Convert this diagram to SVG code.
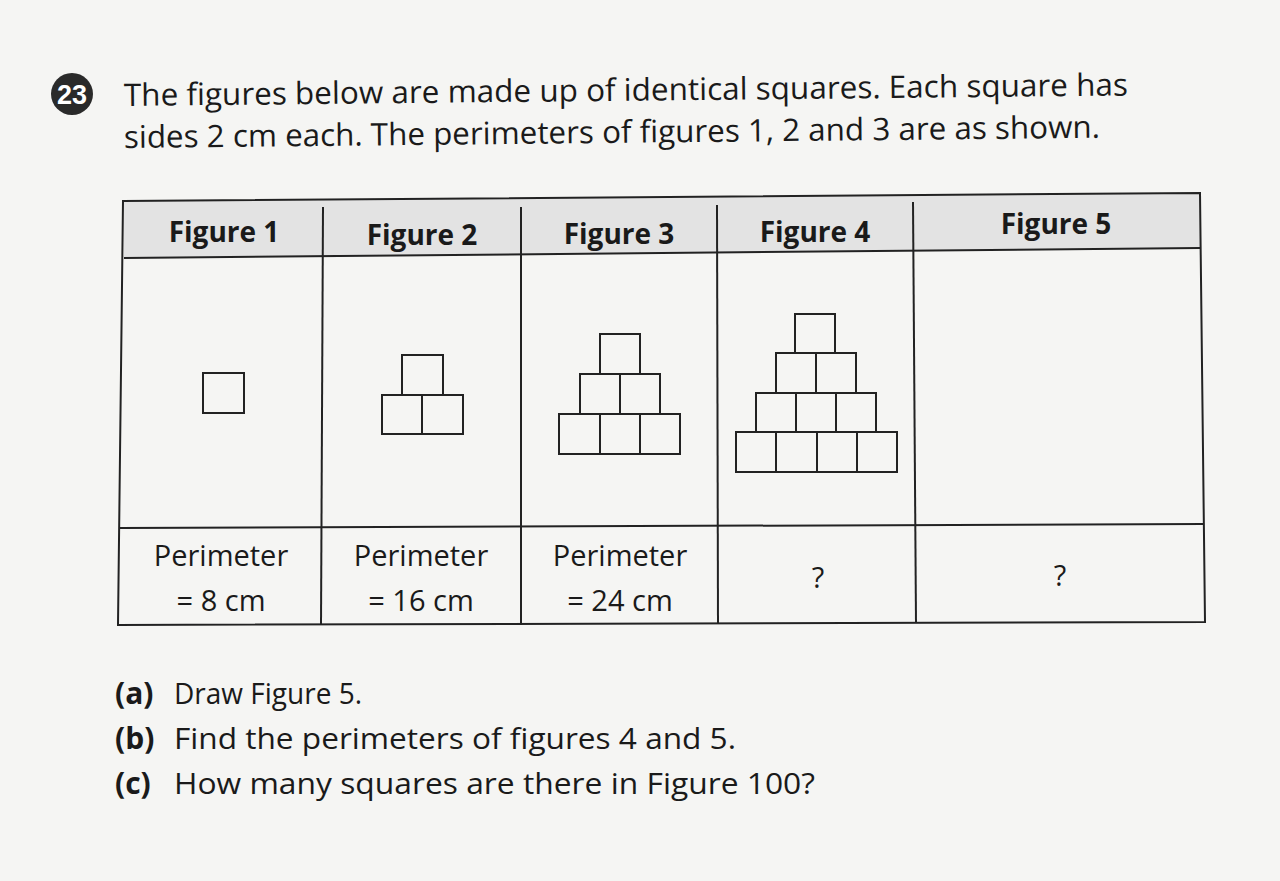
<svg xmlns="http://www.w3.org/2000/svg" width="1280" height="881" viewBox="0 0 1280 881">
<style>
.t{font-family:"Open Sans","Liberation Sans",sans-serif;fill:#1a1a1a}
.h{font-family:"Open Sans","Liberation Sans",sans-serif;font-weight:bold;font-size:28px;fill:#1a1a1a;text-anchor:middle}
.c{font-family:"Open Sans","Liberation Sans",sans-serif;font-size:29px;fill:#1a1a1a;text-anchor:middle}
.sq{fill:none;stroke:#222;stroke-width:2}
.ln{stroke:#222;stroke-width:2;fill:none}
</style>
<rect width="1280" height="881" fill="#f5f5f3"/>
<g id="title">
<circle cx="72" cy="94" r="21" fill="#2a2a2a"/>
<text x="72" y="104" font-family="Liberation Sans,sans-serif" font-weight="bold" font-size="27" fill="#fff" text-anchor="middle">23</text>
<text class="t" x="124" y="106" font-size="31" textLength="1004" lengthAdjust="spacingAndGlyphs" transform="rotate(-0.6 124 106)">The figures below are made up of identical squares. Each square has</text>
<text class="t" x="124" y="148" font-size="31" textLength="976" lengthAdjust="spacingAndGlyphs" transform="rotate(-0.6 124 148)">sides 2 cm each. The perimeters of figures 1, 2 and 3 are as shown.</text>
</g>
<g id="table">
<polygon points="123,201 1200,193 1200,248 124,258" fill="#e3e3e3"/>
<polygon class="ln" points="123,201 1200,193 1205,622 118,625"/>
<line class="ln" x1="124" y1="258" x2="1200" y2="248"/>
<line class="ln" x1="120" y1="528" x2="1203" y2="524"/>
<line class="ln" x1="323" y1="207" x2="321" y2="625"/>
<line class="ln" x1="521" y1="207" x2="521" y2="625"/>
<line class="ln" x1="717" y1="205" x2="718" y2="624"/>
<line class="ln" x1="913" y1="202" x2="916" y2="623"/>
<text class="h" x="224" y="242">Figure 1</text>
<text class="h" x="422" y="245">Figure 2</text>
<text class="h" x="619" y="244">Figure 3</text>
<text class="h" x="815" y="242">Figure 4</text>
<text class="h" x="1056" y="234">Figure 5</text>
<text class="c" x="221" y="566">Perimeter</text>
<text class="c" x="221" y="611">= 8 cm</text>
<text class="c" x="421" y="566">Perimeter</text>
<text class="c" x="421" y="611">= 16 cm</text>
<text class="c" x="620" y="566">Perimeter</text>
<text class="c" x="620" y="611">= 24 cm</text>
<text class="c" x="818" y="588">?</text>
<text class="c" x="1060" y="586">?</text>
</g>
<g id="fig1"><rect class="sq" x="203" y="373" width="41" height="40"/></g>
<g id="fig2">
<rect class="sq" x="402" y="355" width="41" height="40"/>
<rect class="sq" x="382" y="395" width="40" height="39"/><rect class="sq" x="422" y="395" width="41" height="39"/>
</g>
<g id="fig3">
<rect class="sq" x="600" y="334" width="40" height="40"/>
<rect class="sq" x="580" y="374" width="40" height="40"/><rect class="sq" x="620" y="374" width="40" height="40"/>
<rect class="sq" x="559" y="414" width="41" height="40"/><rect class="sq" x="600" y="414" width="40" height="40"/><rect class="sq" x="640" y="414" width="40" height="40"/>
</g>
<g id="fig4">
<rect class="sq" x="795" y="314" width="40" height="39"/>
<rect class="sq" x="776" y="353" width="40" height="40"/><rect class="sq" x="816" y="353" width="40" height="40"/>
<rect class="sq" x="756" y="393" width="40" height="39"/><rect class="sq" x="796" y="393" width="40" height="39"/><rect class="sq" x="836" y="393" width="40" height="39"/>
<rect class="sq" x="736" y="432" width="40" height="40"/><rect class="sq" x="776" y="432" width="41" height="40"/><rect class="sq" x="817" y="432" width="40" height="40"/><rect class="sq" x="857" y="432" width="40" height="40"/>
</g>
<g id="questions">
<text class="t" x="115" y="704" font-size="30" font-weight="bold">(a)</text>
<text class="t" x="174" y="704" font-size="30" textLength="188" lengthAdjust="spacingAndGlyphs">Draw Figure 5.</text>
<text class="t" x="115" y="749" font-size="30" font-weight="bold">(b)</text>
<text class="t" x="174" y="749" font-size="30" textLength="562" lengthAdjust="spacingAndGlyphs">Find the perimeters of figures 4 and 5.</text>
<text class="t" x="115" y="794" font-size="30" font-weight="bold">(c)</text>
<text class="t" x="174" y="794" font-size="30" textLength="641" lengthAdjust="spacingAndGlyphs">How many squares are there in Figure 100?</text>
</g>
</svg>
